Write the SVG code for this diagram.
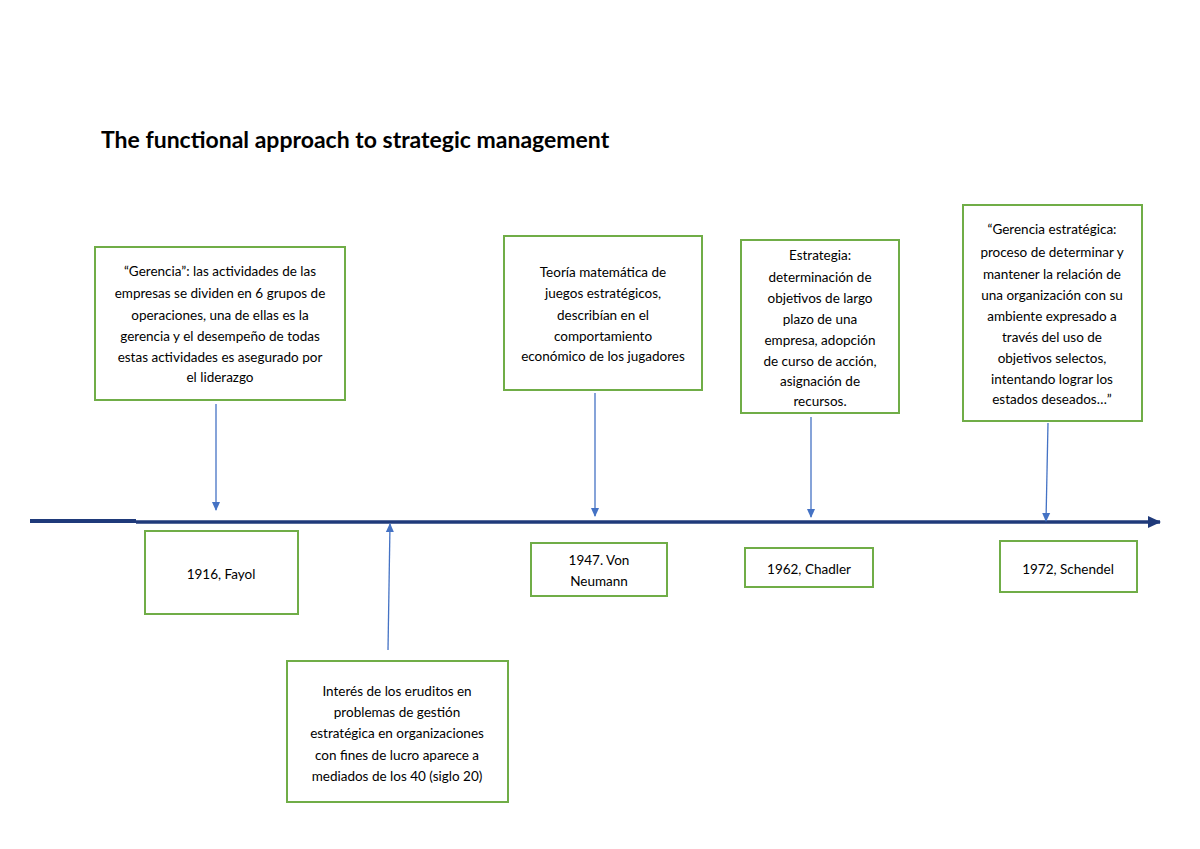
<svg xmlns="http://www.w3.org/2000/svg" width="1200" height="849" viewBox="0 0 1200 849">
<style>
.b{fill:#fff;stroke:#70ad47;stroke-width:2}
.t{font-family:Lato,"Open Sans",sans-serif;font-size:13.5px;fill:#000;text-anchor:middle}
.c{stroke:#4472c4;stroke-width:1.3;fill:none;marker-end:url(#a)}
</style>
<defs>
<marker id="a" markerWidth="10" markerHeight="10" refX="8" refY="5" orient="auto" markerUnits="userSpaceOnUse"><path d="M0,1 L9,5 L0,9 Z" fill="#4472c4"/></marker>
<marker id="m" markerWidth="14" markerHeight="14" refX="12" refY="7" orient="auto" markerUnits="userSpaceOnUse"><path d="M0,1 L13,7 L0,13 Z" fill="#1f3a7a"/></marker>
</defs>
<rect width="1200" height="849" fill="#fff"/>
<text x="101" y="148" font-family="Lato,'Open Sans',sans-serif" font-size="23" font-weight="bold">The functional approach to strategic management</text>
<g id="connectors">
<line x1="30" y1="521" x2="136" y2="521" stroke="#1f3a7a" stroke-width="4"/>
<line x1="136" y1="522" x2="1160" y2="522" stroke="#1f3a7a" stroke-width="3.5" marker-end="url(#m)"/>
<line class="c" x1="216" y1="404" x2="216" y2="510"/>
<line class="c" x1="595" y1="393" x2="595" y2="516"/>
<line class="c" x1="811" y1="417" x2="811" y2="517"/>
<line class="c" x1="1048" y1="423" x2="1046" y2="521"/>
<line class="c" x1="388" y1="650" x2="390" y2="524"/>
</g>
<g id="n1"><rect class="b" x="95" y="247" width="250" height="153"/>
<text class="t"><tspan x="220" y="276">“Gerencia”: las actividades de las</tspan><tspan x="220" y="298">empresas se dividen en 6 grupos de</tspan><tspan x="220" y="320">operaciones, una de ellas es la</tspan><tspan x="220" y="341">gerencia y el desempeño de todas</tspan><tspan x="220" y="362">estas actividades es asegurado por</tspan><tspan x="220" y="382">el liderazgo</tspan></text></g>
<g id="n2"><rect class="b" x="504" y="236" width="198" height="154"/>
<text class="t"><tspan x="603" y="277">Teoría matemática de</tspan><tspan x="603" y="298">juegos estratégicos,</tspan><tspan x="603" y="320">describían en el</tspan><tspan x="603" y="341">comportamiento</tspan><tspan x="603" y="361">económico de los jugadores</tspan></text></g>
<g id="n3"><rect class="b" x="741" y="240" width="158" height="173"/>
<text class="t"><tspan x="820" y="260">Estrategia:</tspan><tspan x="820" y="282">determinación de</tspan><tspan x="820" y="303">objetivos de largo</tspan><tspan x="820" y="324">plazo de una</tspan><tspan x="820" y="345">empresa, adopción</tspan><tspan x="820" y="366">de curso de acción,</tspan><tspan x="820" y="386">asignación de</tspan><tspan x="820" y="406">recursos.</tspan></text></g>
<g id="n4"><rect class="b" x="963" y="205" width="179" height="216"/>
<text class="t"><tspan x="1052" y="234">“Gerencia estratégica:</tspan><tspan x="1052" y="257">proceso de determinar y</tspan><tspan x="1052" y="279">mantener la relación de</tspan><tspan x="1052" y="300">una organización con su</tspan><tspan x="1052" y="321">ambiente expresado a</tspan><tspan x="1052" y="342">través del uso de</tspan><tspan x="1052" y="363">objetivos selectos,</tspan><tspan x="1052" y="384">intentando lograr los</tspan><tspan x="1052" y="404">estados deseados…”</tspan></text></g>
<g id="n5"><rect class="b" x="145" y="531" width="153" height="83"/><text class="t" x="221" y="579">1916, Fayol</text></g>
<g id="n6"><rect class="b" x="531" y="543" width="136" height="53"/><text class="t"><tspan x="599" y="565">1947. Von</tspan><tspan x="599" y="586">Neumann</tspan></text></g>
<g id="n7"><rect class="b" x="745" y="548" width="128" height="39"/><text class="t" x="809" y="574">1962, Chadler</text></g>
<g id="n8"><rect class="b" x="1000" y="541" width="137" height="51"/><text class="t" x="1068" y="574">1972, Schendel</text></g>
<g id="n9"><rect class="b" x="287" y="661" width="221" height="141"/>
<text class="t"><tspan x="397" y="696">Interés de los eruditos en</tspan><tspan x="397" y="717">problemas de gestión</tspan><tspan x="397" y="738">estratégica en organizaciones</tspan><tspan x="397" y="760">con fines de lucro aparece a</tspan><tspan x="397" y="781">mediados de los 40 (siglo 20)</tspan></text></g>
</svg>
